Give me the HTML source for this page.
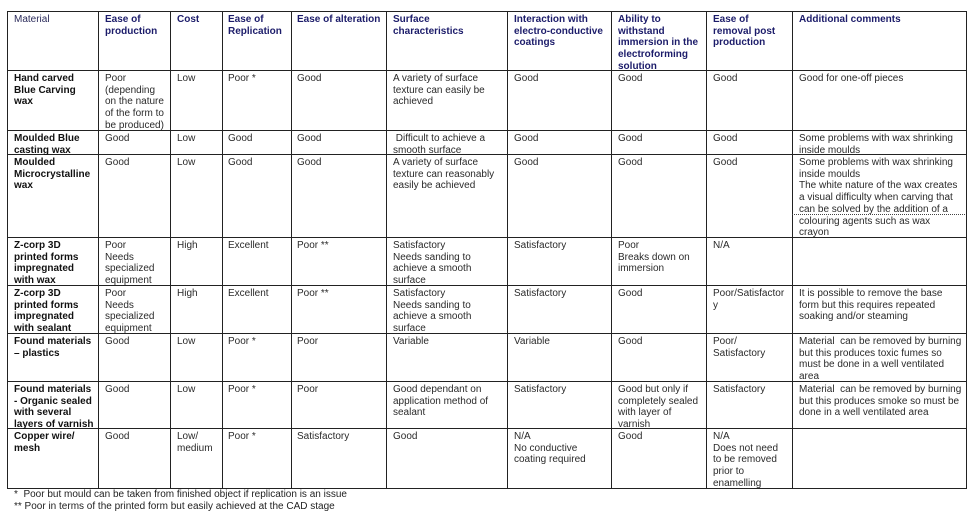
<!DOCTYPE html>
<html><head><meta charset="utf-8"><style>
html,body{margin:0;padding:0;background:#fff;width:980px;height:523px;overflow:hidden;position:relative;font-family:"Liberation Sans",sans-serif;}
.v{position:absolute;width:1px;background:#222;top:11px;height:478px;}
.h{position:absolute;height:1px;background:#222;left:7px;width:960px;}
.c{position:absolute;font-size:10px;line-height:11.7px;color:#2a2a2a;white-space:nowrap;margin-top:1px;}
.hd{color:#1c1c6a;font-weight:bold;}
.b{font-weight:bold;color:#111;}
.f{position:absolute;font-size:10px;color:#222;left:14px;white-space:nowrap;}
</style></head><body>
<div class="v" style="left:7px"></div><div class="v" style="left:98px"></div><div class="v" style="left:170px"></div><div class="v" style="left:222px"></div><div class="v" style="left:291px"></div><div class="v" style="left:386px"></div><div class="v" style="left:507px"></div><div class="v" style="left:611px"></div><div class="v" style="left:706px"></div><div class="v" style="left:792px"></div><div class="v" style="left:966px"></div>
<div class="h" style="top:11px"></div><div class="h" style="top:70px"></div><div class="h" style="top:130px"></div><div class="h" style="top:154px"></div><div class="h" style="top:237px"></div><div class="h" style="top:285px"></div><div class="h" style="top:333px"></div><div class="h" style="top:381px"></div><div class="h" style="top:428px"></div><div class="h" style="top:488px"></div>

<div class="c" style="left:14px;top:13px;color:#2a2a5a">Material</div>
<div class="c hd" style="left:105px;top:13px">Ease of<br>production</div>
<div class="c hd" style="left:177px;top:13px">Cost</div>
<div class="c hd" style="left:228px;top:13px">Ease of<br>Replication</div>
<div class="c hd" style="left:297px;top:13px">Ease of alteration</div>
<div class="c hd" style="left:393px;top:13px">Surface<br>characteristics</div>
<div class="c hd" style="left:514px;top:13px">Interaction with<br>electro-conductive<br>coatings</div>
<div class="c hd" style="left:618px;top:13px">Ability to<br>withstand<br>immersion in the<br>electroforming<br>solution</div>
<div class="c hd" style="left:713px;top:13px">Ease of<br>removal post<br>production</div>
<div class="c hd" style="left:799px;top:13px">Additional comments</div>

<div class="c b" style="left:14px;top:72px">Hand carved<br>Blue Carving<br>wax</div>
<div class="c" style="left:105px;top:72px">Poor<br>(depending<br>on the nature<br>of the form to<br>be produced)</div>
<div class="c" style="left:177px;top:72px">Low</div>
<div class="c" style="left:228px;top:72px">Poor *</div>
<div class="c" style="left:297px;top:72px">Good</div>
<div class="c" style="left:393px;top:72px">A variety of surface<br>texture can easily be<br>achieved</div>
<div class="c" style="left:514px;top:72px">Good</div>
<div class="c" style="left:618px;top:72px">Good</div>
<div class="c" style="left:713px;top:72px">Good</div>
<div class="c" style="left:799px;top:72px">Good for one-off pieces</div>

<div class="c b" style="left:14px;top:132px">Moulded Blue<br>casting wax</div>
<div class="c" style="left:105px;top:132px">Good</div>
<div class="c" style="left:177px;top:132px">Low</div>
<div class="c" style="left:228px;top:132px">Good</div>
<div class="c" style="left:297px;top:132px">Good</div>
<div class="c" style="left:393px;top:132px">&nbsp;Difficult to achieve a<br>smooth surface</div>
<div class="c" style="left:514px;top:132px">Good</div>
<div class="c" style="left:618px;top:132px">Good</div>
<div class="c" style="left:713px;top:132px">Good</div>
<div class="c" style="left:799px;top:132px">Some problems with wax shrinking<br>inside moulds</div>

<div class="c b" style="left:14px;top:156px">Moulded<br>Microcrystalline<br>wax</div>
<div class="c" style="left:105px;top:156px">Good</div>
<div class="c" style="left:177px;top:156px">Low</div>
<div class="c" style="left:228px;top:156px">Good</div>
<div class="c" style="left:297px;top:156px">Good</div>
<div class="c" style="left:393px;top:156px">A variety of surface<br>texture can reasonably<br>easily be achieved</div>
<div class="c" style="left:514px;top:156px">Good</div>
<div class="c" style="left:618px;top:156px">Good</div>
<div class="c" style="left:713px;top:156px">Good</div>
<div class="c" style="left:799px;top:156px">Some problems with wax shrinking<br>inside moulds<br>The white nature of the wax creates<br>a visual difficulty when carving that<br>can be solved by the addition of a<br>colouring agents such as wax<br>crayon</div>
<div style="position:absolute;left:792px;top:214px;width:173px;border-top:1px dotted #444"></div>

<div class="c b" style="left:14px;top:239px">Z-corp 3D<br>printed forms<br>impregnated<br>with wax</div>
<div class="c" style="left:105px;top:239px">Poor<br>Needs<br>specialized<br>equipment</div>
<div class="c" style="left:177px;top:239px">High</div>
<div class="c" style="left:228px;top:239px">Excellent</div>
<div class="c" style="left:297px;top:239px">Poor **</div>
<div class="c" style="left:393px;top:239px">Satisfactory<br>Needs sanding to<br>achieve a smooth<br>surface</div>
<div class="c" style="left:514px;top:239px">Satisfactory</div>
<div class="c" style="left:618px;top:239px">Poor<br>Breaks down on<br>immersion</div>
<div class="c" style="left:713px;top:239px">N/A</div>

<div class="c b" style="left:14px;top:287px">Z-corp 3D<br>printed forms<br>impregnated<br>with sealant</div>
<div class="c" style="left:105px;top:287px">Poor<br>Needs<br>specialized<br>equipment</div>
<div class="c" style="left:177px;top:287px">High</div>
<div class="c" style="left:228px;top:287px">Excellent</div>
<div class="c" style="left:297px;top:287px">Poor **</div>
<div class="c" style="left:393px;top:287px">Satisfactory<br>Needs sanding to<br>achieve a smooth<br>surface</div>
<div class="c" style="left:514px;top:287px">Satisfactory</div>
<div class="c" style="left:618px;top:287px">Good</div>
<div class="c" style="left:713px;top:287px">Poor/Satisfactor<br>y</div>
<div class="c" style="left:799px;top:287px">It is possible to remove the base<br>form but this requires repeated<br>soaking and/or steaming</div>

<div class="c b" style="left:14px;top:335px">Found materials<br>– plastics</div>
<div class="c" style="left:105px;top:335px">Good</div>
<div class="c" style="left:177px;top:335px">Low</div>
<div class="c" style="left:228px;top:335px">Poor *</div>
<div class="c" style="left:297px;top:335px">Poor</div>
<div class="c" style="left:393px;top:335px">Variable</div>
<div class="c" style="left:514px;top:335px">Variable</div>
<div class="c" style="left:618px;top:335px">Good</div>
<div class="c" style="left:713px;top:335px">Poor/<br>Satisfactory</div>
<div class="c" style="left:799px;top:335px">Material&nbsp; can be removed by burning<br>but this produces toxic fumes so<br>must be done in a well ventilated<br>area</div>

<div class="c b" style="left:14px;top:383px">Found materials<br>- Organic sealed<br>with several<br>layers of varnish</div>
<div class="c" style="left:105px;top:383px">Good</div>
<div class="c" style="left:177px;top:383px">Low</div>
<div class="c" style="left:228px;top:383px">Poor *</div>
<div class="c" style="left:297px;top:383px">Poor</div>
<div class="c" style="left:393px;top:383px">Good dependant on<br>application method of<br>sealant</div>
<div class="c" style="left:514px;top:383px">Satisfactory</div>
<div class="c" style="left:618px;top:383px">Good but only if<br>completely sealed<br>with layer of<br>varnish</div>
<div class="c" style="left:713px;top:383px">Satisfactory</div>
<div class="c" style="left:799px;top:383px">Material&nbsp; can be removed by burning<br>but this produces smoke so must be<br>done in a well ventilated area</div>

<div class="c b" style="left:14px;top:430px">Copper wire/<br>mesh</div>
<div class="c" style="left:105px;top:430px">Good</div>
<div class="c" style="left:177px;top:430px">Low/<br>medium</div>
<div class="c" style="left:228px;top:430px">Poor *</div>
<div class="c" style="left:297px;top:430px">Satisfactory</div>
<div class="c" style="left:393px;top:430px">Good</div>
<div class="c" style="left:514px;top:430px">N/A<br>No conductive<br>coating required</div>
<div class="c" style="left:618px;top:430px">Good</div>
<div class="c" style="left:713px;top:430px">N/A<br>Does not need<br>to be removed<br>prior to<br>enamelling</div>

<div class="f" style="top:489px">*&nbsp; Poor but mould can be taken from finished object if replication is an issue</div>
<div class="f" style="top:501px">** Poor in terms of the printed form but easily achieved at the CAD stage</div>
</body></html>
